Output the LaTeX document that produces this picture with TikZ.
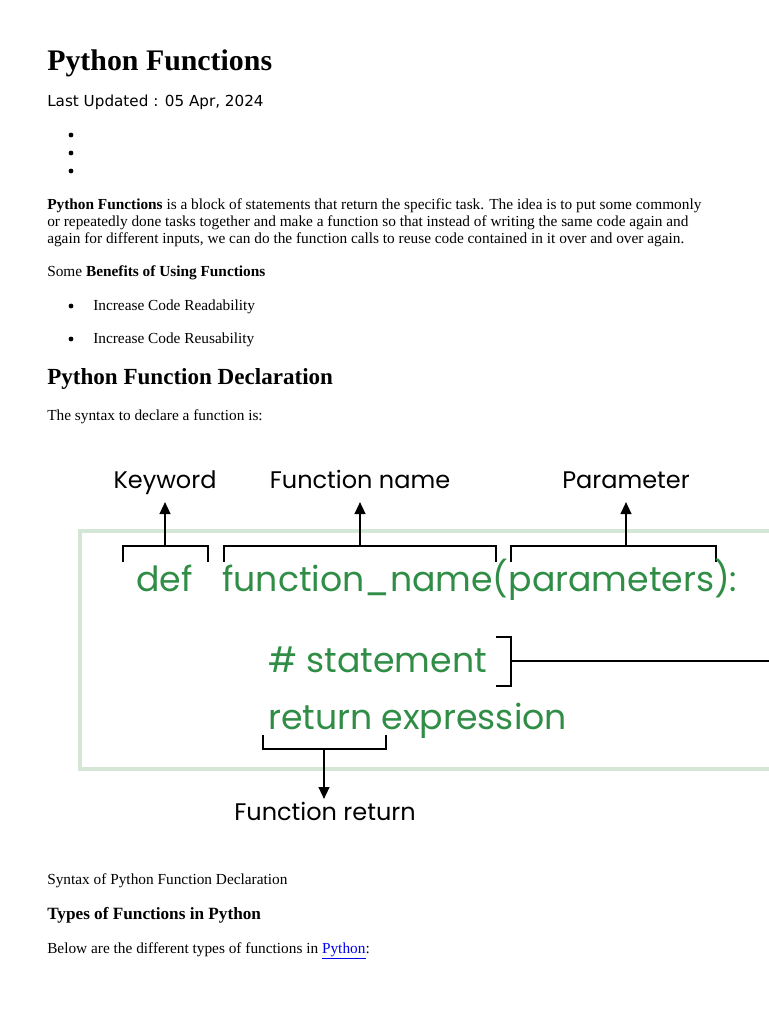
\documentclass[tikz,border=0pt]{standalone}
\usepackage{fontspec}
\setmainfont{Liberation Serif}
\newfontfamily\dsans{DejaVu Sans}
\newfontfamily\gfont{Poppins}
\usetikzlibrary{arrows.meta}
\definecolor{gg}{HTML}{2F8D46}
\definecolor{frame}{HTML}{D4E6D6}
\definecolor{lnk}{HTML}{0000EE}
\tikzset{txt/.style={anchor=base west,inner sep=0pt,font=\fontsize{11.5}{13}\selectfont},
 code/.style={anchor=base west,inner sep=0pt,text=gg,font=\gfont\fontsize{26}{30}\selectfont},
 lbl/.style={anchor=base,inner sep=0pt,font=\gfont\fontsize{18}{21}\selectfont},
 brk/.style={line width=1.6pt},
 arr/.style={line width=1.6pt,-{Triangle[length=9pt,width=8pt]}}}
\begin{document}
\begin{tikzpicture}[x=0.75pt,y=-0.75pt]
\useasboundingbox (0,0) rectangle (768,1024);
\node[anchor=base west,inner sep=0pt,font=\bfseries\fontsize{22.4}{25}\selectfont] (title) at (47,70) {Python Functions};
\node[anchor=base west,inner sep=0pt,font=\dsans\fontsize{11.4}{13}\selectfont] (upd) at (47,107) {Last Updated : 05 Apr, 2024};
\foreach \y/\n in {139/b1,157/b2,175/b3}{\fill (71,\y-4) circle (2.4) coordinate (\n);}
\node[txt] (p1) at (47,209) {\textbf{Python Functions} is a block of statements that return the specific task. The idea is to put some commonly};
\node[txt] (p2) at (47,226) {or repeatedly done tasks together and make a function so that instead of writing the same code again and};
\node[txt] (p3) at (47,243) {again for different inputs, we can do the function calls to reuse code contained in it over and over again.};
\node[txt] (some) at (47,276) {Some \textbf{Benefits of Using Functions}};
\fill (71,306) circle (2.4);
\node[txt] (i1) at (93,310) {Increase Code Readability};
\fill (71,339) circle (2.4);
\node[txt] (i2) at (93,343) {Increase Code Reusability};
\node[anchor=base west,inner sep=0pt,font=\bfseries\fontsize{17.3}{20}\selectfont] (h2) at (47,384) {Python Function Declaration};
\node[txt] (syn) at (47,420) {The syntax to declare a function is:};
% diagram
\draw[frame,line width=3pt] (790,531) -- (80,531) -- (80,769) -- (790,769);
\node[lbl] (kw) at (165,488) {Keyword};
\node[lbl] (fn) at (360,488) {Function name};
\node[lbl] (pa) at (626,488) {Parameter};
\draw[brk] (123,562) -- (123,546) -- (208,546) -- (208,562);
\draw[brk] (224,562) -- (224,546) -- (496,546) -- (496,562);
\draw[brk] (511,562) -- (511,546) -- (716,546) -- (716,562);
\coordinate (c1) at (165,546); \coordinate (c2) at (360,546); \coordinate (c3) at (626,546);
\draw[arr] (c1) -- (165,502);
\draw[arr] (c2) -- (360,502);
\draw[arr] (c3) -- (626,502);
\node[code] (def) at (136,591) {def};
\node[code] (fname) at (222,591) {function\_name(parameters):};
\node[code] (st) at (268,672) {\# statement};
\node[code] (ret) at (268,729) {return expression};
\draw[brk] (496,637) -- (511,637) -- (511,686) -- (496,686);
\coordinate (sm) at (511,661);
\draw[line width=1.2pt] (sm) -- (790,661);
\draw[brk] (263,735) -- (263,749) -- (386,749) -- (386,735);
\coordinate (rb) at (324,749);
\draw[arr] (rb) -- (324,799);
\node[lbl] (fr) at (325,820) {Function return};
\node[txt] (cap) at (47,884) {Syntax of Python Function Declaration};
\node[anchor=base west,inner sep=0pt,font=\bfseries\fontsize{12.9}{15}\selectfont] (types) at (47,919) {Types of Functions in Python};
\node[txt] (below) at (47,953) {Below are the different types of functions in \textcolor{lnk}{\underline{Python}}:};
\end{tikzpicture}
\end{document}
